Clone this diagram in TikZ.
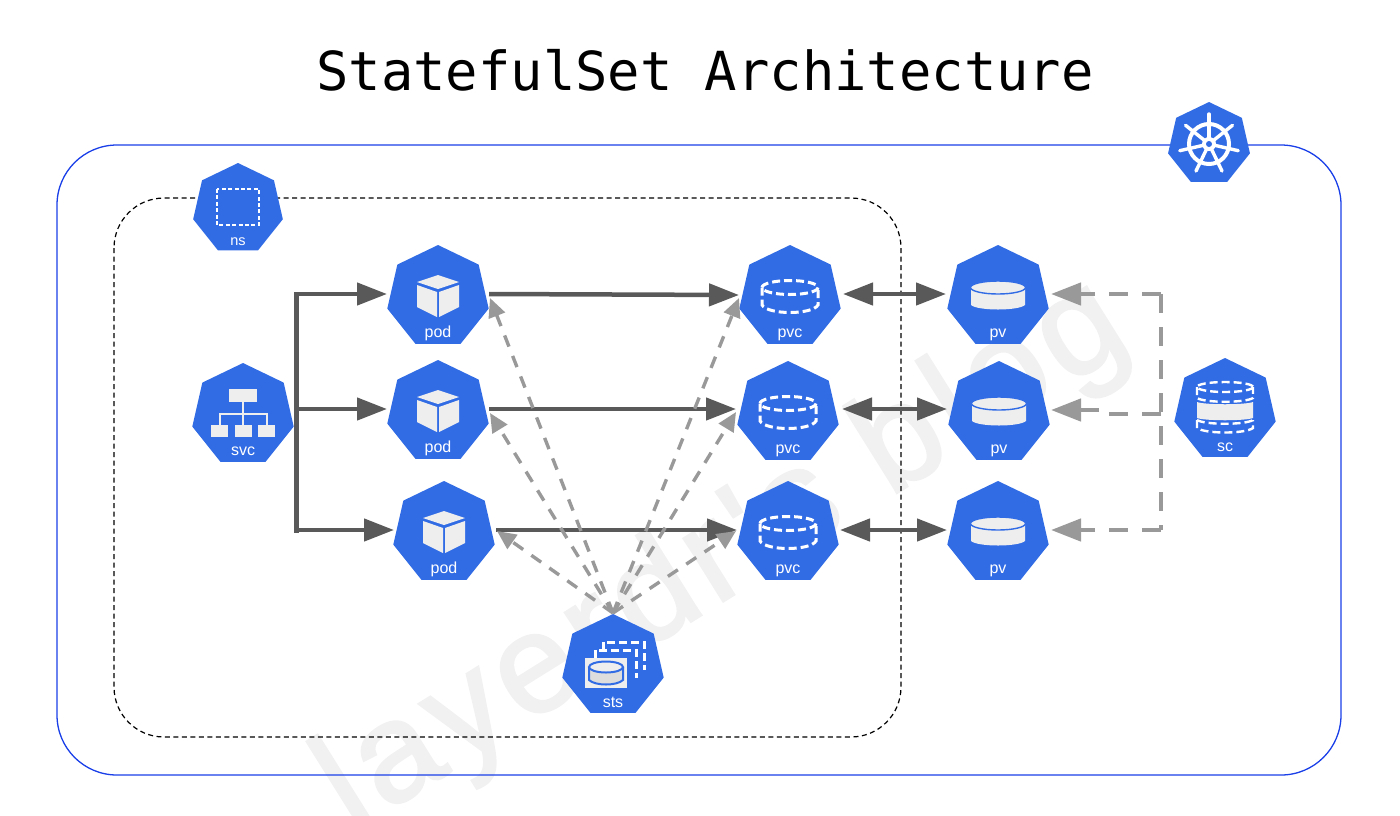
\documentclass[tikz,border=0pt]{standalone}
\usepackage{fontspec}
\setmainfont{Liberation Sans}
\newfontfamily\titlefont{DejaVu Sans Mono}
\newfontfamily\wmfont[FakeBold=2,LetterSpace=5.5]{Liberation Sans}
\usetikzlibrary{shapes.geometric,arrows.meta,calc}
\definecolor{kblue}{HTML}{326CE5}
\definecolor{icon}{HTML}{EEEEEE}
\definecolor{darkarrow}{HTML}{595959}
\definecolor{grayarrow}{HTML}{999999}
\definecolor{frameblue}{HTML}{1A3FE8}
\definecolor{wmark}{HTML}{F1F1F1}
\tikzset{
  hepta/.style={regular polygon,regular polygon sides=7,fill=kblue,inner sep=0pt,outer sep=0pt,minimum size=#1},
  klabel/.style={text=white,font=\fontsize{#1}{#1}\selectfont,inner sep=0pt,anchor=base},
  solidarrow/.style={draw=darkarrow,line width=4.5pt,-{Triangle[length=30pt,width=22pt,fill=darkarrow]}},
  bothway/.style={draw=darkarrow,line width=4.5pt,{Triangle[length=30pt,width=22pt,fill=darkarrow]}-{Triangle[length=30pt,width=22pt,fill=darkarrow]}},
  trunk/.style={draw=darkarrow,line width=5pt},
  stsarrow/.style={draw=grayarrow,line width=3.4pt,dash pattern=on 12pt off 10pt,-{Triangle[length=19pt,width=17pt,fill=grayarrow]}},
  scarrow/.style={draw=grayarrow,line width=4.5pt,dash pattern=on 19pt off 14pt,-{Triangle[length=30pt,width=22pt,fill=grayarrow]}},
  scline/.style={draw=grayarrow,line width=4.5pt,dash pattern=on 19pt off 14pt},
  dashwhite/.style={draw=white,line width=3pt,dash pattern=on 8pt off 4pt},
  cubeicon/.pic={
    \fill[icon] (0,-22)--(21,-15)--(0,-8)--(-21,-15)--cycle;
    \fill[icon] (-21,-12)--(-1,-5)--(-1,20)--(-21,10)--cycle;
    \fill[icon] (21,-12)--(1,-5)--(1,20)--(21,10)--cycle;
  },
  diskicon/.pic={
    \fill[icon] (-27,-9.5)--(-27,8) .. controls (-20,14) and (20,14) .. (27,8)--(27,-9.5)--cycle;
    \filldraw[fill=icon,draw=kblue,line width=1.4pt] (0,-9.5) ellipse [x radius=27.5,y radius=6.5];
  },
  pvcicon/.pic={
    \draw[dashwhite] (0,-9.5) ellipse [x radius=28,y radius=7];
    \draw[dashwhite] (-28,-9.5)--(-28,8) .. controls (-22,18) and (22,18) .. (28,8)--(28,-9.5);
  },
  svcicon/.pic={
    \fill[icon] (-14,-26) rectangle (14,-13);
    \draw[icon,line width=2.6pt] (0,-13)--(0,10) (-23,10)--(-23,-1)--(24,-1)--(24,10);
    \fill[icon] (-32,10) rectangle (-15,22);
    \fill[icon] (-8,10) rectangle (9,22);
    \fill[icon] (15,10) rectangle (32,22);
  },
  nsicon/.pic={
    \draw[draw=white,line width=2.4pt,dash pattern=on 4pt off 2.4pt] (-21,-20) rectangle (21,16);
  },
  wheelicon/.pic={
    \draw[white,line width=4pt] (0,0) circle [radius=20];
    \foreach \a in {90,141.43,192.86,244.29,295.71,347.14,398.57}
      \draw[white,line width=3.4pt,line cap=round] (0,0)--({30*cos(\a)},{-30*sin(\a)});
    \fill[white] (0,0) circle [radius=7];
    \fill[kblue] (0,0) circle [radius=3];
  },
  scicon/.pic={
    \fill[icon] (-28,-8) .. controls (-20,-5) and (20,-5) .. (28,-8)--(28,8) .. controls (20,11) and (-20,11) .. (-28,8)--cycle;
    \draw[dashwhite,line width=2.4pt] (0,-23) ellipse [x radius=28,y radius=5];
    \draw[dashwhite,line width=2.4pt] (-28,-23)--(-28,-12) .. controls (-20,-7) and (20,-7) .. (28,-12)--(28,-23);
    \draw[dashwhite,line width=2.4pt] (-28,10) .. controls (-20,15) and (20,15) .. (28,10);
    \draw[dashwhite,line width=2.4pt] (-28,10)--(-28,18) .. controls (-20,24) and (20,24) .. (28,18)--(28,10);
  },
  stsicon/.pic={
    \draw[draw=white,line width=3pt,dash pattern=on 8pt off 4pt] (-10,-16)--(-10,-24)--(31,-24)--(31,4);
    \draw[draw=white,line width=3pt,dash pattern=on 8pt off 4pt] (-18,-8)--(-18,-16)--(23,-16)--(23,12);
    \fill[icon] (-28,-8) rectangle (14,22);
    \fill[icon!85!gray] (-24,1)--(-24,14) .. controls (-18,20) and (4,20) .. (10,14)--(10,1)--cycle;
    \draw[kblue,line width=2pt] (-24,1)--(-24,14) .. controls (-18,20) and (4,20) .. (10,14)--(10,1);
    \filldraw[fill=icon,draw=kblue,line width=2pt] (-7,1) ellipse [x radius=17,y radius=5.5];
  },
}
\newcommand{\kube}[7]{% name, x, y, size, label, font size, baseline offset
  \node[hepta=#4] (#1) at (#2,#3) {};
  \node[klabel=#6] (#1-label) at (#2,#3+#7) {#5};
}
\begin{document}
\begin{tikzpicture}[x=1pt,y=-1pt]
\useasboundingbox (0,0) rectangle (1400,815);
\begin{scope}
\clip (0,0) rectangle (1400,815);
\node[text=wmark,font=\wmfont\fontsize{140}{140}\selectfont,rotate=32,inner sep=0pt] (wm) at (724,558) {layerdr's blog};
\end{scope}
\node[font=\titlefont\fontsize{53.8}{54}\selectfont,inner sep=0pt] (title) at (705,70) {StatefulSet Architecture};
\draw[frameblue,line width=1.3pt,rounded corners=60pt] (57,145) rectangle (1341,775);
\draw[black,line width=1.2pt,dash pattern=on 5pt off 3.5pt,rounded corners=50pt] (114,198) rectangle (901,737);

\kube{ns}{238}{209}{92}{ns}{14.5}{36}
\node[hepta=84] (k8s) at (1209,144) {};
\kube{svc}{243}{415}{104}{svc}{16}{40}
\kube{podA}{438}{297}{104}{pod}{16}{40}
\kube{podB}{438}{412}{104}{pod}{16}{40}
\kube{podC}{444}{533}{104}{pod}{16}{40}
\kube{pvcA}{790}{297}{104}{pvc}{16}{40}
\kube{pvcB}{788}{413}{104}{pvc}{16}{40}
\kube{pvcC}{788}{533}{104}{pvc}{16}{40}
\kube{pvA}{998}{297}{104}{pv}{16}{40}
\kube{pvB}{999}{413}{104}{pv}{16}{40}
\kube{pvC}{998}{533}{104}{pv}{16}{40}
\kube{sc}{1225}{410}{104}{sc}{16}{41}
\kube{sts}{613}{666}{104}{sts}{16}{41}

\pic at (ns.center) {nsicon};
\pic at (k8s.center) {wheelicon};
\pic at (svc.center) {svcicon};
\pic at (podA.center) {cubeicon};
\pic at (podB.center) {cubeicon};
\pic at (podC.center) {cubeicon};
\pic at (pvcA.center) {pvcicon};
\pic at (pvcB.center) {pvcicon};
\pic at (pvcC.center) {pvcicon};
\pic at (pvA.center) {diskicon};
\pic at (pvB.center) {diskicon};
\pic at (pvC.center) {diskicon};
\pic at (sc.center) {scicon};
\pic at (sts.center) {stsicon};

% svc trunk
\coordinate (trunkA) at ([shift={(53,-121)}]svc.center);
\coordinate (trunkB) at ([shift={(53,-6)}]svc.center);
\coordinate (trunkC) at ([shift={(53,115)}]svc.center);
\draw[trunk,line cap=rect] (trunkA)--(trunkC);
\draw[solidarrow] (trunkA)--([shift={(-51,-3)}]podA.center);
\draw[solidarrow] (trunkB)--([shift={(-51,-3)}]podB.center);
\draw[solidarrow] (trunkC)--([shift={(-50,-3)}]podC.center);
% pod to pvc
\draw[solidarrow] ([shift={(51,-3)}]podA.center)--([shift={(-51,-2)}]pvcA.center);
\draw[solidarrow] ([shift={(51,-3)}]podB.center)--([shift={(-52,-4)}]pvcB.center);
\draw[solidarrow] ([shift={(52,-3)}]podC.center)--([shift={(-51,-3)}]pvcC.center);
% pvc to pv
\draw[bothway] ([shift={(53,-3)}]pvcA.center)--([shift={(-52,-3)}]pvA.center);
\draw[bothway] ([shift={(54,-4)}]pvcB.center)--([shift={(-52,-4)}]pvB.center);
\draw[bothway] ([shift={(52,-3)}]pvcC.center)--([shift={(-51,-3)}]pvC.center);
% sc to pv
\coordinate (scA) at ([shift={(-64,-116)}]sc.center);
\coordinate (scB) at ([shift={(-64,4)}]sc.center);
\coordinate (scC) at ([shift={(-64,120)}]sc.center);
\draw[scline] (scA)--(scC);
\draw[scarrow] (scA)--([shift={(53,-3)}]pvA.center);
\draw[scarrow] (scB)--(1100,414)--(1100,410)--([shift={(52,-3)}]pvB.center);
\draw[scarrow] (scC)--([shift={(53,-3)}]pvC.center);
% sts arrows
\coordinate (stsTop) at ([shift={(0,-53)}]sts.center);
\draw[stsarrow] (stsTop)--([shift={(52,1)}]podA.center);
\draw[stsarrow] (stsTop)--([shift={(52,1)}]podB.center);
\draw[stsarrow] (stsTop)--([shift={(53,-2)}]podC.center);
\draw[stsarrow] (stsTop)--([shift={(-51,1)}]pvcA.center);
\draw[stsarrow] (stsTop)--([shift={(-52,-1)}]pvcB.center);
\draw[stsarrow] (stsTop)--([shift={(-52,-2)}]pvcC.center);
\end{tikzpicture}
\end{document}
